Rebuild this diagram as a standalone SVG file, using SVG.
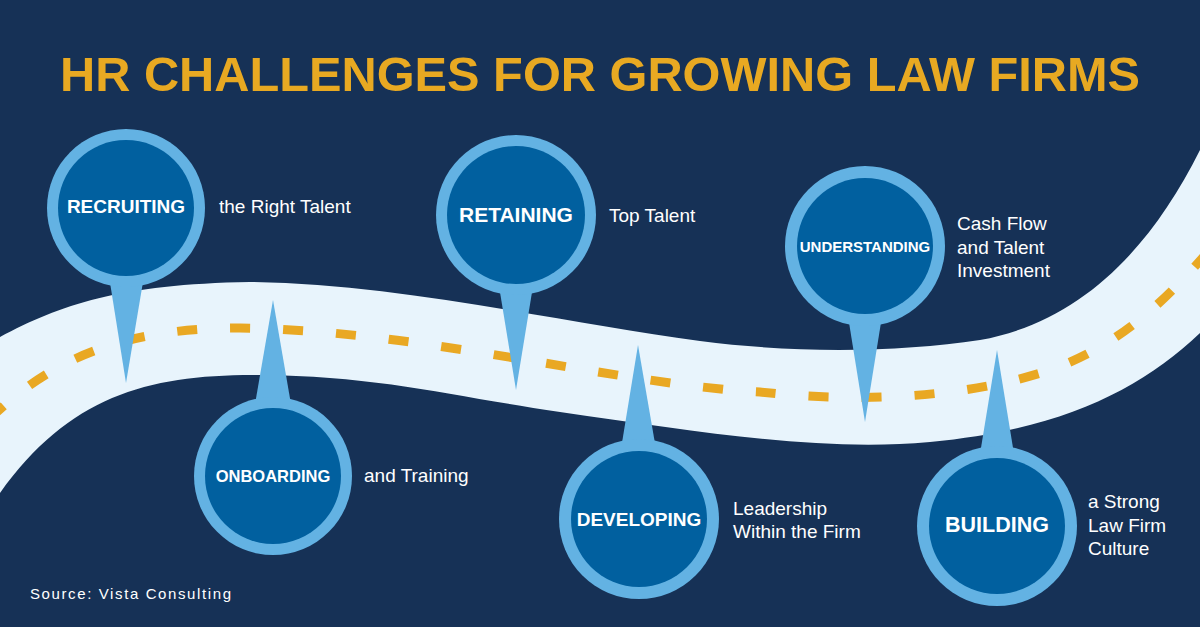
<svg xmlns="http://www.w3.org/2000/svg" width="1200" height="627" viewBox="0 0 1200 627">
<style>
.ring{fill:#63B2E3}
.core{fill:#01609F}
.lbl{font-family:"Liberation Sans",Arial,sans-serif;font-weight:bold;fill:#FFFFFF;text-anchor:middle}
.sub{font-family:"Liberation Sans",Arial,sans-serif;font-size:19px;fill:#FFFFFF}
</style>
<rect x="0" y="0" width="1200" height="627" fill="#163156"/>
<text x="60" y="91" textLength="1080" lengthAdjust="spacingAndGlyphs" font-family="Liberation Sans, Arial, sans-serif" font-weight="bold" font-size="48" fill="#E8A922">HR CHALLENGES FOR GROWING LAW FIRMS</text>
<g id="road">
<path d="M 0,337 C 60,305 120,284 250,282 C 400,284 560,322 700,341 C 800,354 900,352 980,340 C 1080,322 1150,250 1200,150 L 1200,333 C 1140,390 1060,430 930,442 C 820,452 700,432 560,412 C 450,396 380,376 260,375 C 150,374 70,395 0,493 Z" fill="#E8F4FC"/>
<path d="M -30,440 C 40,360 120,328 240,328 C 420,330 620,385 760,392 C 850,402 960,400 1050,370 C 1120,345 1170,300 1230,225" fill="none" stroke="#E9A823" stroke-width="9" stroke-dasharray="20 33" stroke-dashoffset="25"/>
</g>
<g id="connectors">
<polygon class="ring" points="108,270 145,270 126,383"/>
<polygon class="ring" points="254,410 292,410 273,300"/>
<polygon class="ring" points="498,280 534,280 516,390"/>
<polygon class="ring" points="620,455 657,455 638,345"/>
<polygon class="ring" points="847,310 883,310 865,422"/>
<polygon class="ring" points="979,460 1015,460 997,350"/>
</g>
<g id="recruiting">
<circle class="ring" cx="126" cy="208" r="79"/>
<circle class="core" cx="126" cy="208" r="68"/>
<text class="lbl" x="126" y="213" font-size="19">RECRUITING</text>
<text class="sub" x="219" y="213">the Right Talent</text>
</g>
<g id="onboarding">
<circle class="ring" cx="273" cy="476" r="79"/>
<circle class="core" cx="273" cy="476" r="68"/>
<text class="lbl" x="273" y="482" font-size="16.5">ONBOARDING</text>
<text class="sub" x="364" y="482">and Training</text>
</g>
<g id="retaining">
<circle class="ring" cx="516" cy="215" r="80"/>
<circle class="core" cx="516" cy="215" r="69"/>
<text class="lbl" x="516" y="222" font-size="21">RETAINING</text>
<text class="sub" x="609" y="222">Top Talent</text>
</g>
<g id="developing">
<circle class="ring" cx="639" cy="519" r="80"/>
<circle class="core" cx="639" cy="519" r="68"/>
<text class="lbl" x="639" y="526" font-size="19">DEVELOPING</text>
<text class="sub" x="733" y="515">Leadership</text>
<text class="sub" x="733" y="538">Within the Firm</text>
</g>
<g id="understanding">
<circle class="ring" cx="865" cy="246" r="80"/>
<circle class="core" cx="865" cy="246" r="68"/>
<text class="lbl" x="865" y="252" font-size="15">UNDERSTANDING</text>
<text class="sub" x="957" y="230">Cash Flow</text>
<text class="sub" x="957" y="254">and Talent</text>
<text class="sub" x="957" y="277">Investment</text>
</g>
<g id="building">
<circle class="ring" cx="997" cy="526" r="80"/>
<circle class="core" cx="997" cy="526" r="68"/>
<text class="lbl" x="997" y="532" font-size="21.5">BUILDING</text>
<text class="sub" x="1088" y="508">a Strong</text>
<text class="sub" x="1088" y="532">Law Firm</text>
<text class="sub" x="1088" y="555">Culture</text>
</g>
<text x="30" y="599" textLength="201" lengthAdjust="spacing" font-family="Liberation Sans, Arial, sans-serif" font-size="15" fill="#FFFFFF">Source: Vista Consulting</text>
</svg>
